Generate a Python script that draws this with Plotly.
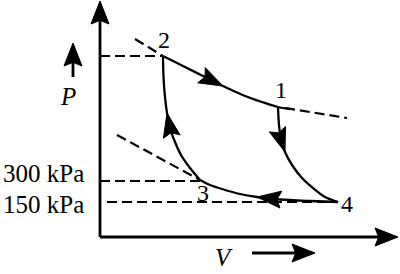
import math
import plotly.graph_objects as go

# Schematic P-V diagram, arbitrary units (V to the right, P upward; origin at axes corner)
# Process curves
curve_21_V = [63, 85, 105, 123, 145, 162, 178, 190]
curve_21_P = [181, 170, 160, 151, 141, 135, 130, 128]
curve_14_V = [178, 179, 181, 185, 192, 202, 213, 225, 238]
curve_14_P = [129, 112, 97, 85, 72, 59, 49, 40, 35]
curve_43_V = [238, 210, 180, 157, 140, 122, 110, 100]
curve_43_P = [35, 36, 37.5, 40, 43, 48, 52, 57]
curve_32_V = [100, 90, 81, 75, 70, 67, 65, 63.5, 63]
curve_32_P = [57, 69, 82, 95, 109, 124, 140, 160, 181]
# index of arrow tip on each curve
arrow_idx = {"21": 3, "14": 3, "43": 3, "32": 5}

# dashed guide lines
guide_lines = [
    ([0, 63], [181, 181]),        # level of state 2
    ([0, 100], [56, 56]),         # 300 kPa
    ([7, 238], [35, 35]),         # 150 kPa
    ([17, 100], [102, 57]),       # extension through state 3
    ([35, 63], [198, 181]),       # extension through state 2
    ([185, 247], [129, 119]),     # extension through state 1
]

# axis arrows and direction arrows: (tail, tip)
axis_arrows = [
    ((0, 0), (0, 236)),           # P axis
    ((0, 0), (298, 0)),           # V axis
    ((-27, 160), (-27, 194)),     # "P increases"
    ((152, -16), (215, -16)),     # "V increases"
]

state_labels = ["1", "2", "3", "4"]
state_label_V = [181, 64, 103, 247]
state_label_P = [147, 197, 44, 33]

tick_labels = ["300 kPa", "150 kPa"]
tick_P = [64, 33]

FONT = "Liberation Serif, Times New Roman, serif"

fig = go.Figure()


def add_head(tail, tip, length, width):
    # stealth-style filled arrowhead; 1 data unit == 1 px on both axes
    dx, dy = tip[0] - tail[0], tip[1] - tail[1]
    d = math.hypot(dx, dy)
    ux, uy = dx / d, dy / d
    nx, ny = -uy, ux
    bx, by = tip[0] - length * ux, tip[1] - length * uy
    mx, my = tip[0] - 0.84 * length * ux, tip[1] - 0.84 * length * uy
    xs = [tip[0], bx + nx * width / 2, mx, bx - nx * width / 2, tip[0]]
    ys = [tip[1], by + ny * width / 2, my, by - ny * width / 2, tip[1]]
    fig.add_trace(go.Scatter(x=xs, y=ys, mode="lines", fill="toself", fillcolor="black",
                             line=dict(color="black", width=1),
                             hoverinfo="skip", showlegend=False))


for gx, gy in guide_lines:
    fig.add_trace(go.Scatter(x=gx, y=gy, mode="lines",
                             line=dict(color="black", width=2.2, dash="10px,5px"),
                             hoverinfo="skip", showlegend=False))

curves = {
    "21": (curve_21_V, curve_21_P),
    "14": (curve_14_V, curve_14_P),
    "43": (curve_43_V, curve_43_P),
    "32": (curve_32_V, curve_32_P),
}
for key, (cv, cp) in curves.items():
    fig.add_trace(go.Scatter(x=cv, y=cp, mode="lines",
                             line=dict(color="black", width=2.3, shape="spline", smoothing=0.8),
                             hoverinfo="skip", showlegend=False))
for key, (cv, cp) in curves.items():
    i = arrow_idx[key]
    add_head((cv[i - 1], cp[i - 1]), (cv[i], cp[i]), 24, 17)

for tail, tip in axis_arrows:
    dx, dy = tip[0] - tail[0], tip[1] - tail[1]
    L = math.hypot(dx, dy)
    back = 12 / L
    end = (tip[0] - dx * back, tip[1] - dy * back)
    fig.add_trace(go.Scatter(x=[tail[0], end[0]], y=[tail[1], end[1]], mode="lines",
                             line=dict(color="black", width=2.8),
                             hoverinfo="skip", showlegend=False))
    add_head(tail, tip, 23, 18)

annotations = []
annotations.append(dict(x=-32, y=141, xref="x", yref="y", text="<i>P</i>", showarrow=False,
                        font=dict(family=FONT, size=25, color="black")))
annotations.append(dict(x=124, y=-20, xref="x", yref="y", text="<i>V</i>", showarrow=False,
                        font=dict(family=FONT, size=25, color="black")))

for t, v, p in zip(state_labels, state_label_V, state_label_P):
    annotations.append(dict(x=v, y=p, xref="x", yref="y", text=t, showarrow=False,
                            font=dict(family=FONT, size=24, color="black")))
for t, p in zip(tick_labels, tick_P):
    annotations.append(dict(x=-14, y=p, xref="x", yref="y", text=t, showarrow=False,
                            xanchor="right", font=dict(family=FONT, size=25, color="black")))

fig.update_layout(
    width=400, height=274,
    margin=dict(l=0, r=0, t=0, b=0),
    paper_bgcolor="white", plot_bgcolor="white",
    xaxis=dict(range=[-100, 300], visible=False, fixedrange=True),
    yaxis=dict(range=[-37, 237], visible=False, fixedrange=True),
    annotations=annotations,
    showlegend=False,
)
fig.write_html("out.html")
